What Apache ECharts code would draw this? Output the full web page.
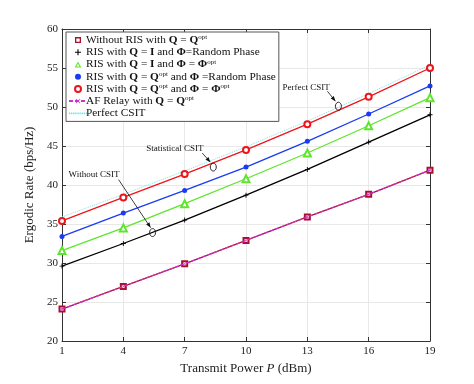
<!DOCTYPE html>
<html><head><meta charset="utf-8">
<script src="https://cdn.jsdelivr.net/npm/echarts@6/dist/echarts.min.js"></script>
<style>html,body{margin:0;padding:0;background:#fff}#c{width:474px;height:384px}</style>
</head><body><div id="c"></div>
<script>
// ---- data ----
const powers = [1, 4, 7, 10, 13, 16, 19];
const withoutRIS = [24.1, 27.0, 29.9, 32.9, 35.9, 38.8, 41.9];
const risIRandom = [29.6, 32.5, 35.5, 38.7, 42.0, 45.5, 49.0];
const risIOpt = [31.6, 34.5, 37.6, 40.8, 44.1, 47.6, 51.2];
const risQoptRandom = [33.4, 36.4, 39.3, 42.3, 45.6, 49.1, 52.7];
const risQoptOpt = [35.4, 38.4, 41.4, 44.5, 47.8, 51.3, 55.0];
const afRelay = [24.1, 27.0, 29.9, 32.9, 35.9, 38.8, 41.9];
const perfectCSIT = [35.9, 38.8, 41.8, 44.9, 48.2, 51.7, 55.4];
const xTickLabels = ['1', '4', '7', '10', '13', '16', '19'];
const yTickLabels = ['20', '25', '30', '35', '40', '45', '50', '55', '60'];
const seriesNames = [
  'Without RIS', 'RIS I Random', 'RIS I Opt', 'RIS Qopt Random', 'RIS Qopt Opt', 'AF Relay', 'Perfect CSIT'
];
const legendTexts = [
  'Without RIS with {b|Q} = {b|Q}{s|opt}',
  'RIS with {b|Q} = {b|I} and {b|Φ}=Random Phase',
  'RIS with {b|Q} = {b|I} and {b|Φ} = {b|Φ}{s|opt}',
  'RIS with {b|Q} = {b|Q}{s|opt} and {b|Φ} =Random Phase',
  'RIS with {b|Q} = {b|Q}{s|opt} and {b|Φ} = {b|Φ}{s|opt}',
  'AF Relay with {b|Q} = {b|Q}{s|opt}',
  'Perfect CSIT'
];
// annotations: ellipse centre in data coords
const annotations = [
  { text: 'Perfect CSIT', at: [14.52, 50.1], textOff: [-56, -19], arrowFrom: [-11, -15], arrowTo: [-3, -5] },
  { text: 'Statistical CSIT', at: [8.4, 42.3], textOff: [-67, -18], arrowFrom: [-11, -14], arrowTo: [-3, -5] },
  { text: 'Without CSIT', at: [5.43, 33.9], textOff: [-84, -58], arrowFrom: [-34, -53], arrowTo: [-2, -5] }
];

const serif = 'Liberation Serif, Times New Roman, serif';
const plusPath = 'path://M-0.18,-1 L0.18,-1 L0.18,-0.18 L1,-0.18 L1,0.18 L0.18,0.18 L0.18,1 L-0.18,1 L-0.18,0.18 L-1,0.18 L-1,-0.18 L-0.18,-0.18 Z';
const xPath = 'path://M-1,-0.8 L-0.8,-1 L0,-0.2 L0.8,-1 L1,-0.8 L0.2,0 L1,0.8 L0.8,1 L0,0.2 L-0.8,1 L-1,0.8 L-0.2,0 Z';
const sqHole = 'path://M0,0 L10,0 L10,10 L0,10 Z M2.2,2.2 L2.2,7.8 L7.8,7.8 L7.8,2.2 Z';
const triHole = 'path://M5,0 L10,9 L0,9 Z M5,3.4 L2.6,7.6 L7.4,7.6 Z';
let dots = 'path://';
for (let k = 0; k < 9; k++) { const x0 = k * 2; dots += 'M' + x0 + ',0 L' + (x0 + 1.2) + ',0 L' + (x0 + 1.2) + ',1.6 L' + x0 + ',1.6 Z '; }

function pairs(ys) { return powers.map((x, i) => [x, ys[i]]); }

const chart = echarts.init(document.getElementById('c'), null, { renderer: 'canvas' });
const axisLine = { show: true, lineStyle: { color: '#333', width: 1 } };
const option = {
  animation: false,
  backgroundColor: '#fff',
  grid: { left: 62, top: 29, width: 368, height: 312, containLabel: false },
  xAxis: [{
    type: 'value', min: 1, max: 19, interval: 3,
    name: 'Transmit Power {i|P} (dBm)', nameLocation: 'middle', nameGap: 17,
    nameTextStyle: { fontFamily: serif, fontSize: 13, color: '#222', rich: { i: { fontStyle: 'italic', fontFamily: serif, fontSize: 13, color: '#222' } } },
    axisLine: axisLine, axisTick: { inside: true, length: 4, lineStyle: { color: '#333' } },
    axisLabel: { fontFamily: serif, fontSize: 11, color: '#222', margin: 5, formatter: (v) => xTickLabels[powers.indexOf(v)] || '' },
    splitLine: { show: true, lineStyle: { color: '#e8e8e8', width: 1 } }
  }, {
    type: 'value', min: 1, max: 19, interval: 3, position: 'top',
    axisLine: axisLine, axisTick: { inside: true, length: 4, lineStyle: { color: '#333' } },
    axisLabel: { show: false }, splitLine: { show: false }
  }],
  yAxis: [{
    type: 'value', min: 20, max: 60, interval: 5,
    name: 'Ergodic Rate (bps/Hz)', nameLocation: 'middle', nameGap: 19,
    nameTextStyle: { fontFamily: serif, fontSize: 13, color: '#222' },
    axisLine: axisLine, axisTick: { inside: true, length: 4, lineStyle: { color: '#333' } },
    axisLabel: { fontFamily: serif, fontSize: 11, color: '#222', margin: 4, formatter: (v) => yTickLabels[(v - 20) / 5] || '' },
    splitLine: { show: true, lineStyle: { color: '#e8e8e8', width: 1 } }
  }, {
    type: 'value', min: 20, max: 60, interval: 5, position: 'right',
    axisLine: axisLine, axisTick: { inside: true, length: 4, lineStyle: { color: '#333' } },
    axisLabel: { show: false }, splitLine: { show: false }
  }],
  legend: {
    orient: 'vertical', left: 66, top: 32,
    backgroundColor: '#fff', borderColor: '#555', borderWidth: 1,
    padding: [2, 3, 2, 2], itemGap: 0, itemWidth: 18, itemHeight: 6,
    selectedMode: false,
    data: [
      { name: seriesNames[0], icon: sqHole },
      { name: seriesNames[1], icon: plusPath },
      { name: seriesNames[2], icon: triHole },
      { name: seriesNames[3], icon: 'circle' },
      { name: seriesNames[4], icon: 'emptyCircle' },
      { name: seriesNames[5] },
      { name: seriesNames[6], icon: dots }
    ],
    formatter: (name) => legendTexts[seriesNames.indexOf(name)],
    textStyle: {
      fontFamily: serif, fontSize: 11.3, color: '#111', lineHeight: 12.2, padding: [0, 0, 0, -6],
      rich: {
        b: { fontFamily: serif, fontSize: 11.3, fontWeight: 'bold', color: '#111', lineHeight: 12.2 },
        s: { fontFamily: serif, fontSize: 7, color: '#111', verticalAlign: 'top', lineHeight: 12.2, padding: [0, 0, 5, 0] }
      }
    }
  },
  series: [
    { name: seriesNames[0], type: 'line', data: pairs(withoutRIS), symbol: 'emptyRect', symbolSize: 5,
      lineStyle: { color: '#A8102C', width: 1.3 }, itemStyle: { color: '#A8102C', borderWidth: 1 } , z: 3},
    { name: seriesNames[1], type: 'line', data: pairs(risIRandom), symbol: plusPath, symbolSize: 5,
      lineStyle: { color: '#000', width: 1.3 }, itemStyle: { color: '#000' } },
    { name: seriesNames[2], type: 'line', data: pairs(risIOpt), symbol: 'emptyTriangle', symbolSize: 7,
      lineStyle: { color: '#5EE62C', width: 1.3 }, itemStyle: { color: '#5EE62C', borderWidth: 1 } },
    { name: seriesNames[3], type: 'line', data: pairs(risQoptRandom), symbol: 'circle', symbolSize: 5,
      lineStyle: { color: '#1A3CF0', width: 1.3 }, itemStyle: { color: '#1A3CF0' } },
    { name: seriesNames[4], type: 'line', data: pairs(risQoptOpt), symbol: 'emptyCircle', symbolSize: 6,
      lineStyle: { color: '#F0141A', width: 1.3 }, itemStyle: { color: '#F0141A', borderWidth: 1 } },
    { name: seriesNames[5], type: 'line', data: pairs(afRelay), symbol: xPath, symbolSize: 4,
      lineStyle: { color: '#D030D0', width: 1.2, type: [4, 2] }, itemStyle: { color: '#D030D0' }, z: 4 },
    { name: seriesNames[6], type: 'line', data: pairs(perfectCSIT), symbol: 'none',
      lineStyle: { color: '#7FE3E0', width: 1, type: [1, 1] }, itemStyle: { color: '#6FDCDA' }, z: 1 }
  ]
};
chart.setOption(option);

// annotations drawn relative to data coordinates
const g = [];
annotations.forEach((a) => {
  const p = chart.convertToPixel({ xAxisIndex: 0, yAxisIndex: 0 }, a.at);
  g.push({ type: 'ellipse', shape: { cx: p[0], cy: p[1], rx: 3, ry: 4 }, style: { fill: 'none', stroke: '#111', lineWidth: 0.9 }, z: 100 });
  const x1 = p[0] + a.arrowFrom[0], y1 = p[1] + a.arrowFrom[1];
  const x2 = p[0] + a.arrowTo[0], y2 = p[1] + a.arrowTo[1];
  g.push({ type: 'line', shape: { x1: x1, y1: y1, x2: x2, y2: y2 }, style: { stroke: '#111', lineWidth: 0.8 }, z: 100 });
  const ang = Math.atan2(y2 - y1, x2 - x1), L = 5, W = 2;
  const bx = x2 - L * Math.cos(ang), by = y2 - L * Math.sin(ang);
  g.push({ type: 'polygon', shape: { points: [[x2, y2], [bx + W * Math.sin(ang), by - W * Math.cos(ang)], [bx - W * Math.sin(ang), by + W * Math.cos(ang)]] },
    style: { fill: '#111' }, z: 100 });
  g.push({ type: 'text', x: p[0] + a.textOff[0], y: p[1] + a.textOff[1], z: 100,
    style: { text: a.text, font: '9px ' + serif, fill: '#111', textVerticalAlign: 'middle', verticalAlign: 'middle' } });
});
chart.setOption({ graphic: g });
</script>
</body></html>
